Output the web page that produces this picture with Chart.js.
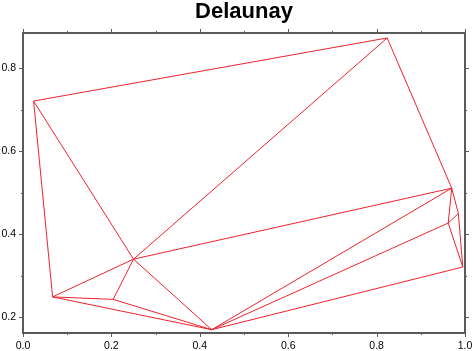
<!DOCTYPE html>
<html>
<head>
<meta charset="utf-8">
<script src="https://cdn.jsdelivr.net/npm/chart.js@4"></script>
<style>
  html, body { margin: 0; padding: 0; background: #fff; }
  #wrap { width: 474px; height: 351px; }
</style>
</head>
<body>
<div id="wrap"><canvas id="c" width="474" height="351"></canvas></div>
<script>
// Node coordinates
const pointX = [0.024, 0.824, 0.250, 0.067, 0.204, 0.427, 0.970, 0.985, 0.962, 0.995];
const pointY = [0.721, 0.873, 0.340, 0.249, 0.243, 0.170, 0.511, 0.450, 0.427, 0.321];
// Triangulation edges (index pairs into the node arrays)
const edges = [
  [0,1],[0,2],[0,3],[1,2],[1,6],[2,3],[2,4],[2,5],[2,6],[3,4],
  [3,5],[4,5],[5,6],[5,8],[5,9],[6,7],[6,8],[7,8],[7,9],[8,9]
];
const xTickLabels = [0.0, 0.2, 0.4, 0.6, 0.8, 1.0];
const yTickLabels = [0.2, 0.4, 0.6, 0.8];
const xRange = [0, 1];
const yRange = [0.162, 0.885];

const FRAME = '#5a5a5a';
const LINE = 'rgb(238,34,44)';

const datasets = edges.map(([a, b]) => ({
  data: [{x: pointX[a], y: pointY[a]}, {x: pointX[b], y: pointY[b]}],
  showLine: true,
  borderColor: LINE,
  borderWidth: 1,
  pointRadius: 0,
  pointHoverRadius: 0,
  fill: false
}));

function near(v, list) { return list.some(t => Math.abs(t - v) < 1e-6); }

const framePlugin = {
  id: 'frame',
  afterDraw(chart) {
    const {ctx, chartArea: a, scales} = chart;
    ctx.save();
    ctx.strokeStyle = FRAME;
    ctx.lineWidth = 1;
    const xs = scales.x, ys = scales.y;
    for (let k = 0; k <= 10; k++) {
      const v = xRange[0] + k * 0.1;
      if (v < xs.min - 1e-9 || v > xs.max + 1e-9) continue;
      const px = Math.round(xs.getPixelForValue(v)) + 0.5;
      const len = (k % 2 === 0) ? 4 : 2;
      ctx.beginPath();
      ctx.moveTo(px, a.bottom); ctx.lineTo(px, a.bottom + len);
      ctx.moveTo(px, a.top); ctx.lineTo(px, a.top - len);
      ctx.stroke();
    }
    for (let k = 1; k <= 9; k++) {
      const v = k * 0.1;
      if (v < ys.min || v > ys.max) continue;
      const py = Math.round(ys.getPixelForValue(v)) + 0.5;
      const len = (k % 2 === 0) ? 4 : 2;
      ctx.beginPath();
      ctx.moveTo(a.left, py); ctx.lineTo(a.left - len, py);
      ctx.moveTo(a.right, py); ctx.lineTo(a.right + len, py);
      ctx.stroke();
    }
    ctx.lineWidth = 2;
    ctx.strokeRect(a.left, a.top, a.right - a.left, a.bottom - a.top);
    ctx.restore();
  }
};

new Chart(document.getElementById('c'), {
  type: 'scatter',
  data: { datasets },
  options: {
    responsive: false,
    animation: false,
    events: [],
    layout: { padding: { left: 0, right: 0, top: 0, bottom: 0 } },
    plugins: {
      legend: { display: false },
      tooltip: { enabled: false },
      title: {
        display: true,
        text: 'Delaunay',
        fullSize: false,
        color: '#000',
        font: { family: 'Liberation Sans, Arial, sans-serif', size: 22, weight: 'bold', lineHeight: 1.0 },
        padding: { top: 1, bottom: 10 }
      }
    },
    scales: {
      x: {
        type: 'linear',
        min: xRange[0], max: xRange[1],
        grid: { display: false, drawTicks: false },
        border: { display: false },
        afterFit(s) { s.height = 18; s.paddingRight = 9; s.paddingLeft = 0; },
        ticks: {
          stepSize: 0.1,
          autoSkip: false,
          maxRotation: 0,
          padding: 7,
          color: '#000',
          font: { family: 'Liberation Sans, Arial, sans-serif', size: 10.5 },
          callback(v) { return near(v, xTickLabels) ? v.toFixed(1) : ''; }
        }
      },
      y: {
        type: 'linear',
        min: yRange[0], max: yRange[1],
        grid: { display: false, drawTicks: false },
        border: { display: false },
        afterFit(s) { s.width = 23; s.paddingTop = 0; s.paddingBottom = 0; },
        ticks: {
          stepSize: 0.1,
          autoSkip: false,
          padding: 7,
          color: '#000',
          font: { family: 'Liberation Sans, Arial, sans-serif', size: 10.5 },
          callback(v) { return near(v, yTickLabels) ? v.toFixed(1) : ''; }
        }
      }
    }
  },
  plugins: [framePlugin]
});
</script>
</body>
</html>
